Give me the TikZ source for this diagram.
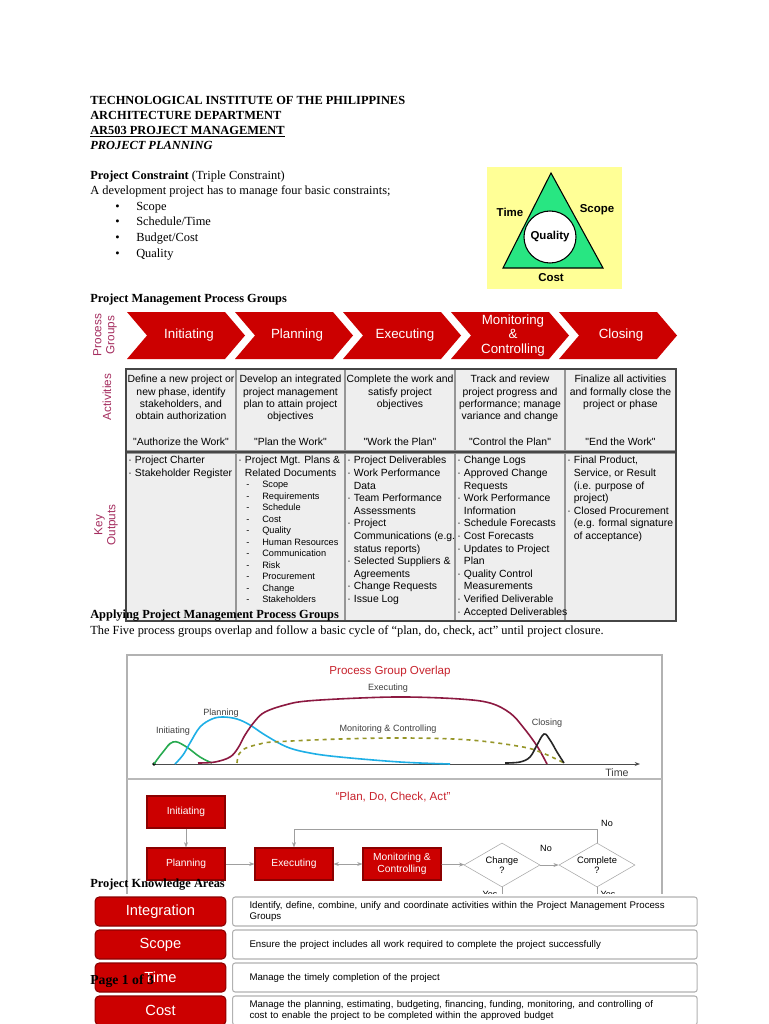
\documentclass[tikz,border=0pt]{standalone}
\usepackage{fontspec}
\setmainfont{Liberation Serif}
\newfontfamily\dgfont{Liberation Sans}
\usetikzlibrary{arrows.meta,shapes.geometric,positioning}

\definecolor{pmred}{RGB}{204,0,0}
\definecolor{pmdark}{RGB}{140,0,0}
\definecolor{rowlbl}{RGB}{165,45,95}
\definecolor{cellgray}{RGB}{238,238,238}
\definecolor{cellline}{RGB}{150,150,150}
\definecolor{trigreen}{RGB}{40,230,130}
\definecolor{triyellow}{RGB}{255,255,150}
\definecolor{crvgreen}{RGB}{40,170,80}
\definecolor{crvblue}{RGB}{30,175,230}
\definecolor{crvmaroon}{RGB}{140,25,65}
\definecolor{crvolive}{RGB}{150,150,40}
\definecolor{ttlred}{RGB}{200,35,45}

\newcommand{\pgsize}{\fontsize{9.3}{11}\selectfont}
\newcommand{\bul}{\makebox[5pt][l]{·}}
\newcommand{\cnt}{\hspace*{5pt}}
\newcommand{\sub}{\hspace*{6pt}\makebox[12pt][l]{-}}

\begin{document}
\begin{tikzpicture}[x=0.75pt,y=-0.75pt]
\tikzset{
  pagetxt/.style={anchor=base west,inner sep=0pt,font=\pgsize},
  pagebold/.style={pagetxt,font=\pgsize\bfseries},
  rowlabel/.style={rotate=90,text=rowlbl,align=center,font=\dgfont\fontsize{8.8}{9.8}\selectfont},
  cell/.style={fill=cellgray,draw=cellline,line width=0.8},
  acttxt/.style={align=center,inner sep=0pt,font=\dgfont\fontsize{7.8}{9.2}\selectfont},
  outtxt/.style={anchor=north west,align=left,inner sep=0pt,font=\dgfont\fontsize{7.8}{9.45}\selectfont},
  subtxt/.style={anchor=north west,align=left,inner sep=0pt,font=\dgfont\fontsize{6.9}{8.62}\selectfont},
  chevlbl/.style={text=white,align=center,font=\dgfont\fontsize{10}{11}\selectfont},
  trilbl/.style={font=\dgfont\bfseries\fontsize{8.6}{10}\selectfont},
  crvlbl/.style={text=black!75,font=\dgfont\fontsize{6.8}{8}\selectfont},
  charttitle/.style={text=ttlred,font=\dgfont\fontsize{8.7}{10}\selectfont},
  flowbox/.style={rectangle,fill=pmred,draw=pmdark,line width=0.8,text=white,align=center,
    minimum width=58.5pt,minimum height=24pt,inner sep=1pt,font=\dgfont\fontsize{7.7}{9}\selectfont},
  decision/.style={diamond,draw=gray!70,fill=white,aspect=1.73,minimum width=57pt,minimum height=33pt,
    inner sep=0pt,align=center,font=\dgfont\fontsize{7}{8}\selectfont},
  flowarrow/.style={draw=gray!75,line width=0.6,-{Stealth[length=4pt,width=3pt]}},
  flowlbl/.style={font=\dgfont\fontsize{6.8}{8}\selectfont},
  kabutton/.style={rounded corners=3pt,fill=pmred,draw=pmdark,line width=0.8,text=white,
    minimum width=98pt,minimum height=21.75pt,font=\dgfont\fontsize{11}{13}\selectfont},
  kadesc/.style={anchor=west,rounded corners=2pt,draw=gray!60,fill=white,line width=0.8,align=left,
    minimum height=21.75pt,text width=323pt,inner xsep=12.75pt,font=\dgfont\fontsize{7.25}{8.2}\selectfont}
}
\useasboundingbox (0,0) rectangle (768,1024);
\fill[white] (0,0) rectangle (768,1024);

% heading
\node[pagebold] (t_inst) at (90,104) {TECHNOLOGICAL INSTITUTE OF THE PHILIPPINES};
\node[pagebold] (t_dept) at (90,119) {ARCHITECTURE DEPARTMENT};
\node[pagebold] (t_course) at (90,134) {\underline{AR503 PROJECT MANAGEMENT}};
\node[pagebold,font=\pgsize\bfseries\itshape] (t_topic) at (90,149) {PROJECT PLANNING};
\node[pagetxt] (t_constr) at (90,179) {\textbf{Project Constraint} (Triple Constraint)};
\node[pagetxt] (t_manage) at (90,194) {A development project has to manage four basic constraints;};
\foreach \i/\item in {0/Scope,1/{Schedule/Time},2/{Budget/Cost},3/Quality}{
  \node[pagetxt] (b\i) at (115,210+15.7*\i) {\textbullet};
  \node[pagetxt] (c\i) at (136,210+15.7*\i) {\item};
}

% triple constraint
\fill[triyellow] (487,167) rectangle (622,289);
\draw[fill=trigreen,line width=0.8] (551,173) -- (603,268) -- (503,268) -- cycle;
\node[circle,draw,fill=white,line width=0.8,minimum size=39pt,inner sep=0pt] (q_circ) at (550,237) {};
\node[trilbl] (q_lbl) at (q_circ) {Quality};
\node[trilbl] (q_time) at (510,212) {Time};
\node[trilbl] (q_scope) at (597,210) {Scope};
\node[trilbl] (q_cost) at (551,278) {Cost};

% process groups
\node[pagebold] (t_groups) at (90,302) {Project Management Process Groups};
\node[rowlabel] (r_groups) at (105,335) {Process\\Groups};
\foreach \i/\txt in {0/Initiating,1/Planning,2/Executing,3/{Monitoring\\\&\\Controlling},4/Closing}{
  \pgfmathsetmacro{\lx}{127+108*\i}
  \fill[pmred] (\lx,312) -- ++(98,0) -- ++(20,23.5) -- ++(-20,23.5) -- ++(-98,0) -- ++(20,-23.5) -- cycle;
  \node[chevlbl] (pg\i) at (\lx+62,335.5) {\txt};
}
\foreach \xa/\xb in {126/236,236/345,345/455,455/565,565/676}{
  \draw[cell] (\xa,369) rectangle (\xb,451);
  \draw[cell] (\xa,453) rectangle (\xb,621);
}
\draw[gray!55!black,line width=0.9] (126,369) rectangle (676,621);
\draw[gray!55!black,line width=0.9] (126,452) -- (676,452);
\node[rowlabel] (r_act) at (107,397) {Activities};
\node[rowlabel] (r_out) at (106,525) {Key\\Outputs};

\node[acttxt,anchor=north] (a0) at (181,375) {Define a new project or\\new phase, identify\\stakeholders, and\\obtain authorization};
\node[acttxt,anchor=north] (a1) at (290.5,375) {Develop an integrated\\project management\\plan to attain project\\objectives};
\node[acttxt,anchor=north] (a2) at (400,375) {Complete the work and\\satisfy project\\objectives};
\node[acttxt,anchor=north] (a3) at (510,375) {Track and review\\project progress and\\performance; manage\\variance and change};
\node[acttxt,anchor=north] (a4) at (620.5,375) {Finalize all activities\\and formally close the\\project or phase};
\node[acttxt] (w0) at (181,442) {"Authorize the Work"};
\node[acttxt] (w1) at (290.5,442) {"Plan the Work"};
\node[acttxt] (w2) at (400,442) {"Work the Plan"};
\node[acttxt] (w3) at (510,442) {"Control the Plan"};
\node[acttxt] (w4) at (620.5,442) {"End the Work"};

\node[outtxt] (o0) at (128,456) {\bul Project Charter\\\bul Stakeholder Register};
\node[outtxt] (o1) at (238,456) {\bul Project Mgt. Plans \&\\\cnt Related Documents};
\node[subtxt] (o1s) at (238,481) {\sub Scope\\\sub Requirements\\\sub Schedule\\\sub Cost\\\sub Quality\\\sub Human Resources\\\sub Communication\\\sub Risk\\\sub Procurement\\\sub Change\\\sub Stakeholders};
\node[outtxt] (o2) at (347,456) {\bul Project Deliverables\\\bul Work Performance\\\cnt Data\\\bul Team Performance\\\cnt Assessments\\\bul Project\\\cnt Communications (e.g.\\\cnt status reports)\\\bul Selected Suppliers \&\\\cnt Agreements\\\bul Change Requests\\\bul Issue Log};
\node[outtxt] (o3) at (457,456) {\bul Change Logs\\\bul Approved Change\\\cnt Requests\\\bul Work Performance\\\cnt Information\\\bul Schedule Forecasts\\\bul Cost Forecasts\\\bul Updates to Project\\\cnt Plan\\\bul Quality Control\\\cnt Measurements\\\bul Verified Deliverable\\\bul Accepted Deliverables};
\node[outtxt] (o4) at (567,456) {\bul Final Product,\\\cnt Service, or Result\\\cnt (i.e. purpose of\\\cnt project)\\\bul Closed Procurement\\\cnt (e.g. formal signature\\\cnt of acceptance)};

\node[pagebold] (t_apply) at (90,618) {Applying Project Management Process Groups};
\node[pagetxt] (t_cycle) at (90,634) {The Five process groups overlap and follow a basic cycle of “plan, do, check, act” until project closure.};

% overlap chart and cycle
\begin{scope}
\clip (120,650) rectangle (680,893);
\draw[gray!60,line width=1] (127,655) rectangle (662,905);
\draw[gray!55,line width=2.2] (127,779) -- (662,779);
\node[charttitle] (ch_title) at (390,671) {Process Group Overlap};
\coordinate (ax_o) at (154,764);
\coordinate (ax_e) at (640,764);
\draw[gray!60!black,line width=0.6,-{Stealth[length=4pt,width=3pt]}] (ax_o) -- (ax_e);
\fill[black] (ax_o) circle[radius=1.8];
\node[crvlbl,font=\dgfont\fontsize{8}{9}\selectfont] (ch_time) at (617,773) {Time};
\draw[crvgreen,line width=1.2] plot[smooth,tension=0.7] coordinates {(154,764) (163,752) (173,742) (185,746) (200,757) (212,763)};
\draw[crvblue,line width=1.2] plot[smooth,tension=0.6] coordinates {(175,764) (183,755) (190,743) (200,727) (212,719) (223,717) (237,719) (250,725) (265,735) (287,747) (310,753) (340,757) (400,762) (450,764)};
\draw[crvmaroon,line width=1.2] plot[smooth,tension=0.6] coordinates {(198,763) (215,762) (230,757) (238,748) (245,735) (255,721) (265,712) (285,705) (307,701) (360,698) (407,697) (460,699) (490,703) (510,713) (523,727) (537,746) (547,764)};
\draw[crvolive,line width=1.2,dashed] plot[smooth,tension=0.6] coordinates {(237,763) (239,754) (246,748) (260,744) (273,742) (340,739) (407,738) (470,740) (523,747) (545,754) (564,763)};
\draw[black!85,line width=1.2] plot[smooth,tension=0.6] coordinates {(505,763) (520,762) (530,757) (537,745) (544,734) (550,740) (557,752) (564,763)};
\node[crvlbl] (l_exec) at (388,688) {Executing};
\node[crvlbl] (l_plan) at (221,713) {Planning};
\node[crvlbl] (l_init) at (173,731) {Initiating};
\node[crvlbl] (l_mon) at (388,729) {Monitoring \& Controlling};
\node[crvlbl] (l_close) at (547,723) {Closing};

\node[charttitle] (pd_title) at (393,797) {“Plan, Do, Check, Act”};
\node[flowbox] (n_init) at (186,812) {Initiating};
\node[flowbox] (n_plan) at (186,864) {Planning};
\node[flowbox] (n_exec) at (294,864) {Executing};
\node[flowbox] (n_mon) at (402,864) {Monitoring \&\\Controlling};
\node[decision] (n_chg) at (502,865) {Change\\?};
\node[decision] (n_cmp) at (597,865) {Complete\\?};
\coordinate (c_loop) at (597,829);
\coordinate (c_yes1) at (502,900);
\coordinate (c_yes2) at (597,900);
\draw[flowarrow] (n_init) -- (n_plan);
\draw[flowarrow] (n_plan) -- (n_exec);
\draw[flowarrow,{Stealth[length=4pt,width=3pt]}-{Stealth[length=4pt,width=3pt]}] (n_exec) -- (n_mon);
\draw[flowarrow] (n_mon) -- (n_chg);
\draw[flowarrow] (n_chg) -- (n_cmp);
\draw[flowarrow] (n_cmp.north) -- (c_loop) -| (n_exec.north);
\draw[draw=gray!75,line width=0.6] (n_chg.south) -- (c_yes1);
\draw[draw=gray!75,line width=0.6] (n_cmp.south) -- (c_yes2);
\node[flowlbl] (no1) at (546,848) {No};
\node[flowlbl] (no2) at (607,823) {No};
\node[flowlbl] (yes1) at (490,894) {Yes};
\node[flowlbl] (yes2) at (608,894) {Yes};
\end{scope}

% knowledge areas
\node[pagebold] (t_know) at (90,887) {Project Knowledge Areas};
\foreach \i/\ka/\desc in {
  0/Integration/{Identify, define, combine, unify and coordinate activities within the Project Management Process\\Groups},
  1/Scope/{Ensure the project includes all work required to complete the project successfully},
  2/Time/{Manage the timely completion of the project},
  3/Cost/{Manage the planning, estimating, budgeting, financing, funding, monitoring, and controlling of\\cost to enable the project to be completed within the approved budget}}{
  \node[kabutton] (k\i) at (160.5,911.5+33*\i) {\ka};
  \node[kadesc] (d\i) at (232,911.5+33*\i) {\desc};
}
\node[pagebold,font=\fontsize{10.3}{12}\selectfont\bfseries] (t_page) at (90,984) {Page 1 of 3};
\end{tikzpicture}
\end{document}
